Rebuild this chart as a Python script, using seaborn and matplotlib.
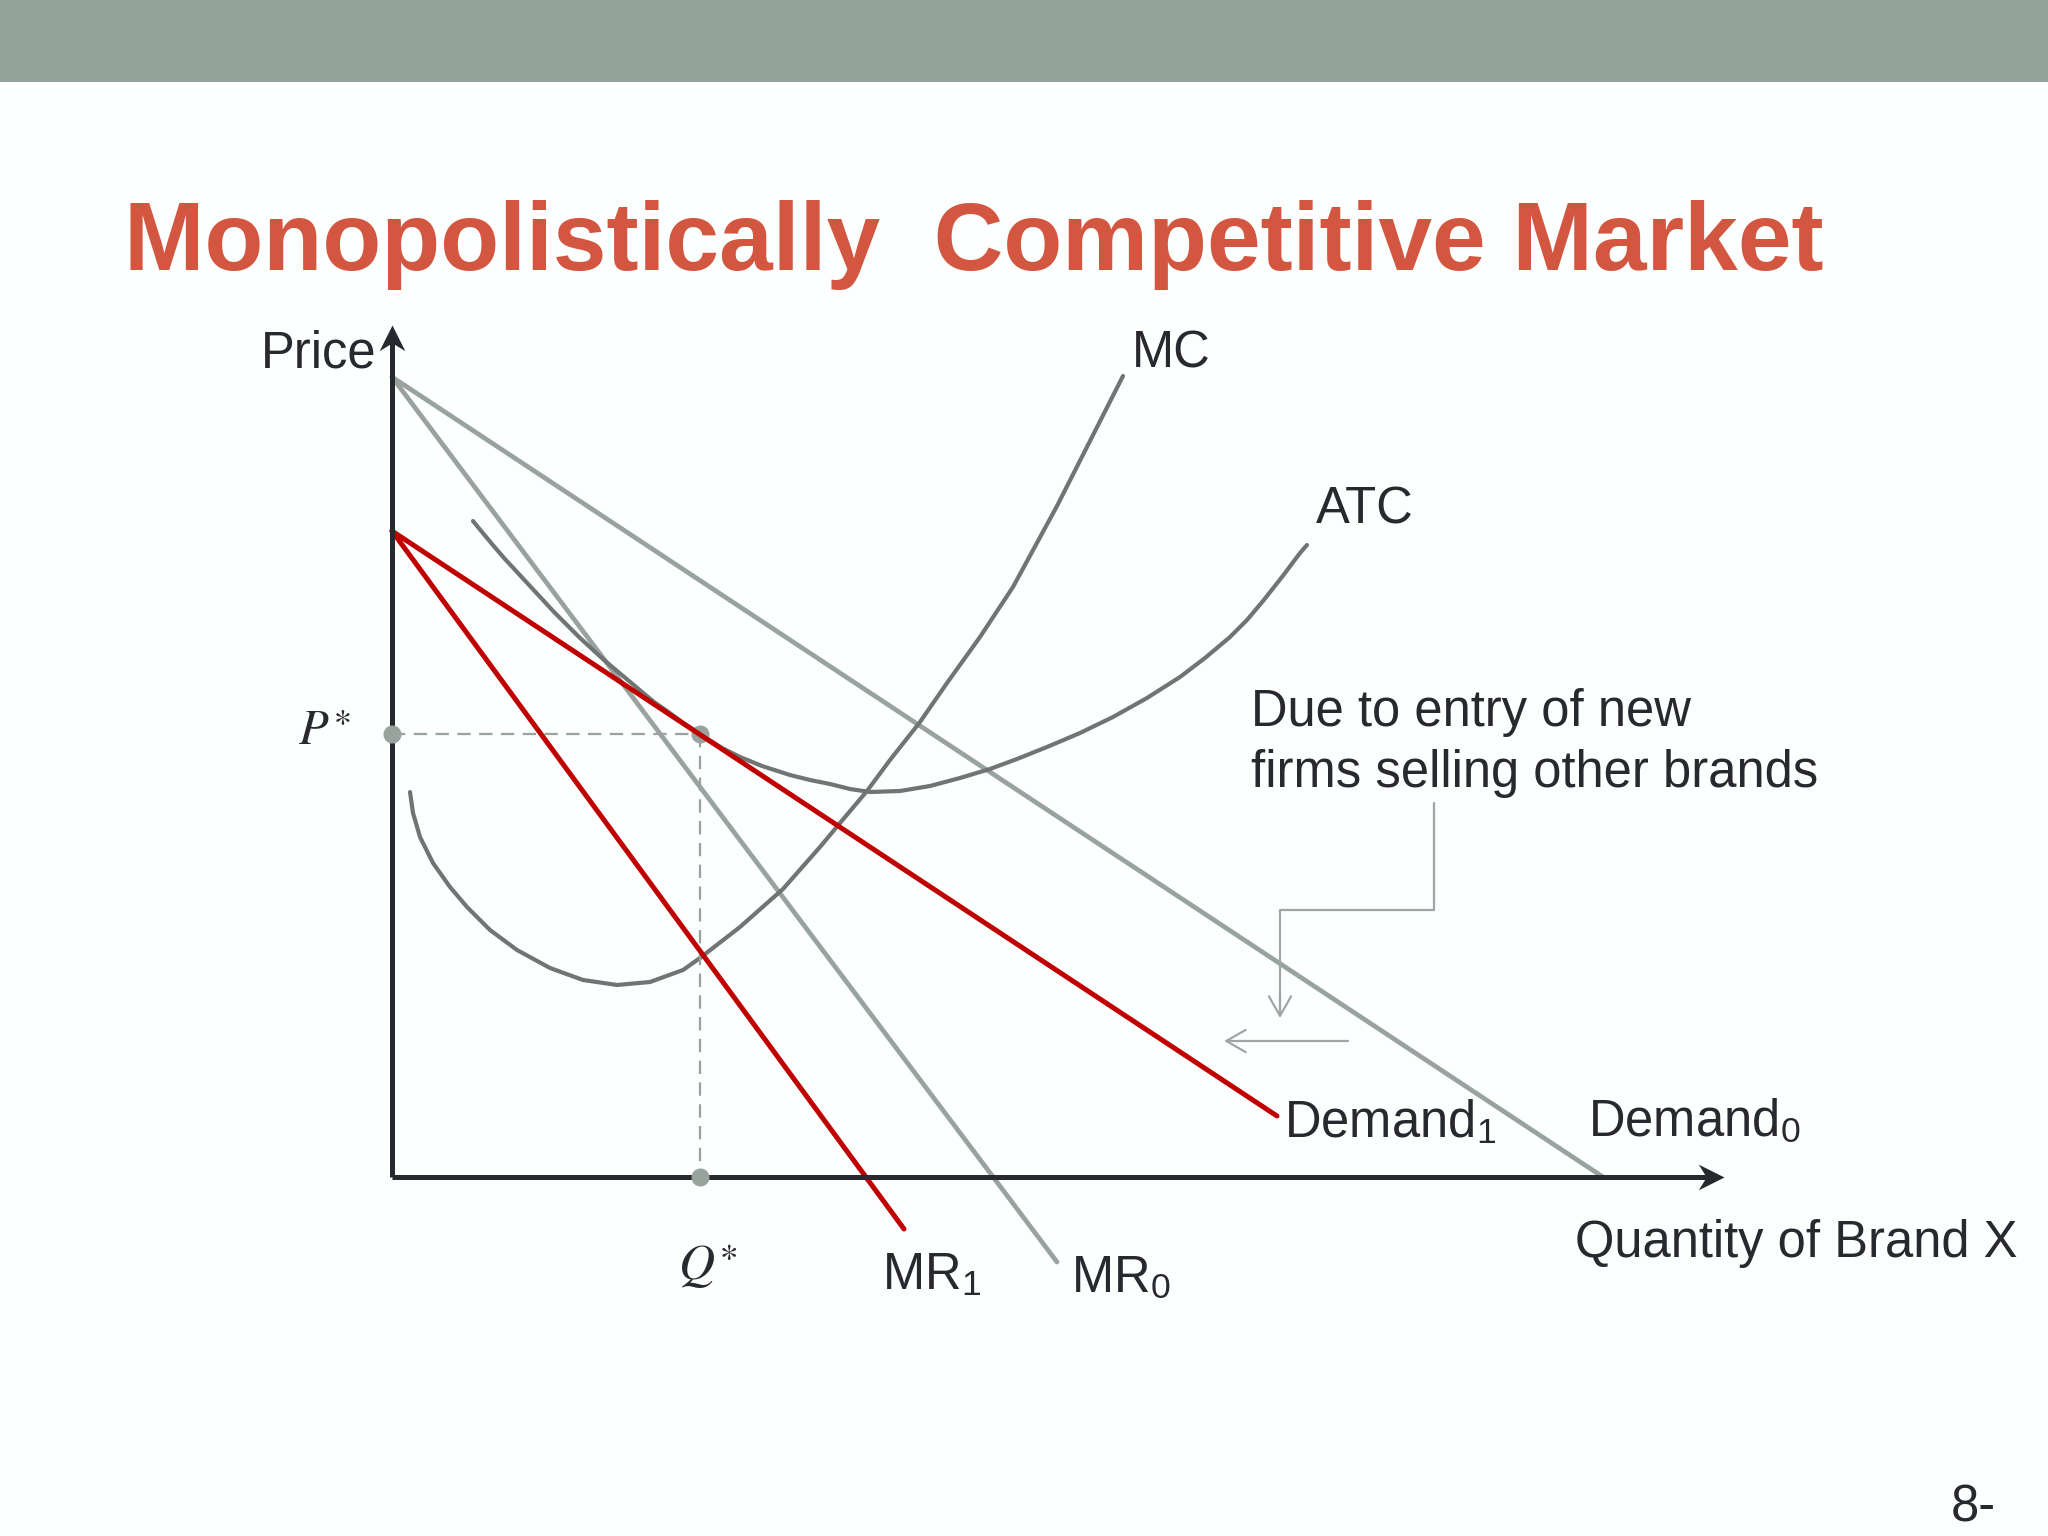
import matplotlib.pyplot as plt
import seaborn as sns
from matplotlib.patches import Rectangle
from matplotlib.path import Path

# curves (quantity, price)
q_demand0 = [0, 12.11]
p_demand0 = [8.00, 0.0]
q_mr0 = [0, 6.65]
p_mr0 = [8.00, -0.85]
q_demand1 = [0, 8.85]
p_demand1 = [6.46, 0.61]
q_mr1 = [0, 5.12]
p_mr1 = [6.46, -0.52]

q_atc = [0.81, 0.90, 1.00, 1.12, 1.25, 1.37, 1.50, 1.62, 1.75, 1.87, 2.00, 2.12, 2.25,
         2.37, 2.50, 2.62, 2.75, 2.90, 3.08, 3.30, 3.48, 3.70, 3.98, 4.18, 4.38, 4.58,
         4.78, 5.08, 5.38, 5.68, 5.98, 6.25, 6.55, 6.88, 7.21, 7.55, 7.88, 8.13, 8.38,
         8.55, 8.71, 8.90, 9.08, 9.15]
p_atc = [6.56, 6.45, 6.33, 6.19, 6.05, 5.92, 5.78, 5.65, 5.52, 5.40, 5.28, 5.17, 5.06,
         4.96, 4.85, 4.75, 4.66, 4.55, 4.43, 4.29, 4.20, 4.11, 4.02, 3.97, 3.93, 3.88,
         3.85, 3.86, 3.91, 3.99, 4.08, 4.18, 4.30, 4.44, 4.60, 4.79, 5.00, 5.19, 5.40,
         5.57, 5.76, 6.00, 6.24, 6.32]

q_mc = [0.18, 0.21, 0.28, 0.41, 0.58, 0.75, 0.98, 1.25, 1.58, 1.91, 2.25, 2.58, 2.91,
        3.08, 3.48, 3.91, 4.28, 4.48, 4.75, 4.98, 5.28, 5.55, 5.88, 6.21, 6.65, 6.98, 7.31]
p_mc = [3.85, 3.64, 3.40, 3.14, 2.90, 2.70, 2.47, 2.27, 2.09, 1.97, 1.92, 1.95, 2.07,
        2.19, 2.50, 2.88, 3.30, 3.54, 3.86, 4.17, 4.55, 4.94, 5.40, 5.90, 6.71, 7.36, 8.01]

q_star = 3.08
p_star = 4.43
x_axis_end = 13.32
y_axis_end = 8.52

LIGHT = '#99a39e'
DARK = '#6f7572'
RED = '#c00000'
INK = '#28282f'

sns.set_style('white')
plt.rcParams['font.family'] = ['Liberation Sans', 'DejaVu Sans']
plt.rcParams['mathtext.fontset'] = 'stix'

fig = plt.figure(figsize=(20.48, 15.36), dpi=100)
fig.patch.set_facecolor('#fdfefe')
fig.patches.append(Rectangle((0, 1 - 82 / 1536), 1, 82 / 1536, transform=fig.transFigure,
                             facecolor='#93a29a', edgecolor='none'))
ax = fig.add_axes([0, 0, 1, 1])
ax.set_xlim(-3.92, 16.56)
ax.set_ylim(-3.59, 11.77)
ax.axis('off')

fig.text(0.0605, 0.824, 'Monopolistically  Competitive Market', fontsize=69.5,
         fontweight='bold', color='#d35640', va='baseline')

# axes with stealth arrow heads
ax.plot([0, 0], [0, y_axis_end - 0.1], color=INK, lw=3.6, solid_capstyle='butt', zorder=5)
ax.plot([0, x_axis_end - 0.1], [0, 0], color=INK, lw=3.6, solid_capstyle='butt', zorder=5)
head_up = Path([(0, 0), (-13, -26), (0, -18), (13, -26), (0, 0)],
               [Path.MOVETO, Path.LINETO, Path.LINETO, Path.LINETO, Path.CLOSEPOLY])
head_right = Path([(0, 0), (-26, 13), (-18, 0), (-26, -13), (0, 0)],
                  [Path.MOVETO, Path.LINETO, Path.LINETO, Path.LINETO, Path.CLOSEPOLY])
ax.plot([0], [y_axis_end], marker=head_up, markersize=37, color=INK, mew=0, zorder=6)
ax.plot([x_axis_end], [0], marker=head_right, markersize=37, color=INK, mew=0, zorder=6)

sns.lineplot(x=q_demand0, y=p_demand0, color=LIGHT, lw=3.4, ax=ax, estimator=None, sort=False)
sns.lineplot(x=q_mr0, y=p_mr0, color=LIGHT, lw=3.4, ax=ax, estimator=None, sort=False)
sns.lineplot(x=q_atc, y=p_atc, color=DARK, lw=3.0, ax=ax, estimator=None, sort=False)
sns.lineplot(x=q_mc, y=p_mc, color=DARK, lw=3.0, ax=ax, estimator=None, sort=False)
for line in ax.lines[-2:]:
    line.set_solid_joinstyle('round')

# equilibrium guides
ax.plot([0, q_star], [p_star, p_star], color=LIGHT, lw=1.6, dashes=(6, 3.8), zorder=3)
ax.plot([q_star, q_star], [p_star, 0], color=LIGHT, lw=1.6, dashes=(6, 3.8), zorder=3)
ax.plot([q_star], [p_star], 'o', color=LIGHT, ms=12, zorder=3)
ax.plot([0], [p_star], 'o', color=LIGHT, ms=12, zorder=7)
ax.plot([q_star], [0], 'o', color=LIGHT, ms=12, zorder=7)

sns.lineplot(x=q_demand1, y=p_demand1, color=RED, lw=3.6, ax=ax, estimator=None, sort=False)
sns.lineplot(x=q_mr1, y=p_mr1, color=RED, lw=3.6, ax=ax, estimator=None, sort=False)
for line in ax.lines[-2:]:
    line.set_zorder(4)

# shift annotation
ax.plot([10.42, 10.42, 8.88, 8.88], [3.74, 2.67, 2.67, 1.75], color='#a0a6a3', lw=1.6)
ax.annotate('', xy=(8.88, 1.59), xytext=(8.88, 1.8),
            arrowprops=dict(arrowstyle='->,head_length=0.7,head_width=0.4', color='#a0a6a3',
                            lw=1.6, mutation_scale=20, shrinkA=0, shrinkB=0))
ax.annotate('', xy=(8.32, 1.36), xytext=(9.56, 1.36),
            arrowprops=dict(arrowstyle='->,head_length=0.7,head_width=0.4', color='#a0a6a3',
                            lw=1.6, mutation_scale=20, shrinkA=0, shrinkB=0))

fs = 36.5
ax.text(-1.31, 8.10, 'Price', fontsize=fs, color=INK, va='baseline')
ax.text(7.40, 8.10, 'MC', fontsize=fs, color=INK, va='baseline')
ax.text(9.24, 6.54, 'ATC', fontsize=fs, color=INK, va='baseline')
ax.text(8.59, 4.51, 'Due to entry of new', fontsize=fs, color=INK, va='baseline')
ax.text(8.59, 3.90, 'firms selling other brands', fontsize=fs, color=INK, va='baseline')
ax.text(8.92, 0.40, r'Demand$_\mathregular{1}$', fontsize=fs, color=INK, va='baseline')
ax.text(11.96, 0.41, r'Demand$_\mathregular{0}$', fontsize=fs, color=INK, va='baseline')
ax.text(4.90, -1.12, r'MR$_\mathregular{1}$', fontsize=fs, color=INK, va='baseline')
ax.text(6.79, -1.15, r'MR$_\mathregular{0}$', fontsize=fs, color=INK, va='baseline')
ax.text(11.83, -0.80, 'Quantity of Brand X', fontsize=fs, color=INK, va='baseline')
ax.text(2.86, -1.03, r'$Q^{\ast}$', fontsize=36, color=INK, va='baseline')
ax.text(-0.94, 4.32, r'$P^{\ast}$', fontsize=35, color=INK, va='baseline')
ax.text(15.59, -3.45, '8-', fontsize=fs, color=INK, va='baseline')

fig.savefig('out.png', dpi=100, facecolor=fig.get_facecolor())
